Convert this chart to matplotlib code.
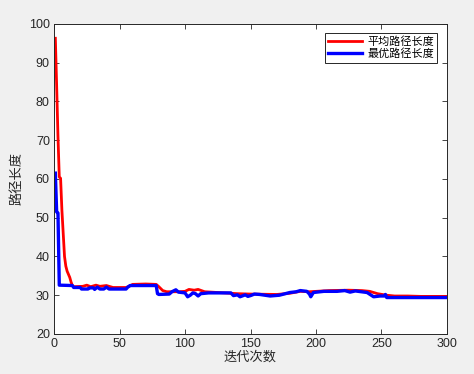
import matplotlib
matplotlib.use("Agg")
import matplotlib.pyplot as plt

plt.rcParams['font.family'] = ['Liberation Sans', 'Noto Sans CJK SC', 'DejaVu Sans']

# 平均路径长度 (iteration, value) breakpoints
avg_iter = [1, 2, 3, 4, 5, 6, 7, 8, 9, 10, 11, 12, 13, 14, 15, 22, 25, 28, 32, 35,
            40, 45, 55, 58, 60, 70, 78, 80, 83, 86, 95, 100, 103, 107, 110, 115,
            125, 140, 150, 170, 180, 188, 195, 200, 210, 225, 235, 241, 247, 254,
            260, 270, 280, 300]
avg_len = [96.3, 84, 71, 60.5, 60.2, 52, 46, 40, 37.5, 36.2, 35.4, 34.6, 33.4, 32.5,
           32.2, 32.3, 32.6, 32.2, 32.6, 32.3, 32.5, 32.0, 32.0, 32.4, 32.8, 32.9,
           32.8, 32.2, 31.2, 30.9, 30.9, 31.0, 31.5, 31.3, 31.5, 30.9, 30.7, 30.4,
           30.3, 30.2, 30.5, 31.0, 30.9, 31.0, 31.2, 31.3, 31.2, 31.0, 30.4, 30.0,
           29.8, 29.8, 29.7, 29.7]

# 最优路径长度
best_iter = [1, 2, 3, 4, 14, 15, 20, 21, 26, 27, 30, 31, 33, 35, 38, 40, 42, 55, 56,
             58, 78, 79, 80, 88, 90, 93, 95, 100, 102, 104, 106, 108, 110, 112, 118,
             135, 137, 140, 142, 146, 148, 150, 153, 157, 165, 172, 180, 185, 188,
             193, 195, 196, 198, 206, 216, 222, 226, 230, 239, 244, 249, 252, 253,
             254, 300]
best_len = [61.5, 51.5, 51.2, 32.6, 32.5, 32.0, 32.0, 31.6, 31.6, 31.9, 31.9, 31.5,
            32.1, 31.6, 31.6, 32.1, 31.6, 31.6, 32.0, 32.5, 32.5, 30.4, 30.2, 30.3,
            30.9, 31.4, 30.8, 30.6, 29.6, 30.0, 30.6, 30.4, 29.8, 30.4, 30.6, 30.6,
            29.9, 30.1, 29.6, 30.1, 29.7, 29.9, 30.3, 30.2, 29.8, 30.0, 30.7, 30.9,
            31.2, 31.0, 30.3, 29.6, 30.7, 31.0, 31.0, 31.2, 30.8, 31.1, 30.7, 29.6,
            29.8, 29.8, 30.2, 29.4, 29.4]

fig = plt.figure(figsize=(4.74, 3.74), dpi=100, facecolor='#f0f0f0')
ax = fig.add_axes([0.114, 0.107, 0.829, 0.829])

ax.plot(avg_iter, avg_len, color='#ff0000', lw=2.0, label='平均路径长度')
ax.plot(best_iter, best_len, color='#0000ff', lw=2.4, label='最优路径长度')

ax.set_xlim(0, 300)
ax.set_ylim(20, 100)
ax.set_xticks(range(0, 301, 50))
ax.set_yticks(range(20, 101, 10))
ax.tick_params(direction='in', length=3.5, width=0.6, top=True, right=True,
               labelsize=9, colors='#262626', pad=3)
for s in ax.spines.values():
    s.set_color('#262626')
    s.set_linewidth(0.7)

ax.set_xlabel('迭代次数', fontsize=9.5, color='#262626', labelpad=1)
ax.set_ylabel('路径长度', fontsize=9.5, color='#262626', labelpad=4)

leg = ax.legend(loc='upper right', bbox_to_anchor=(0.975, 0.972), fontsize=8,
                handlelength=3.0, fancybox=False, framealpha=1, borderpad=0.3,
                labelspacing=0.2, handletextpad=0.5, borderaxespad=0)
leg.get_frame().set_edgecolor('#262626')
leg.get_frame().set_linewidth(0.7)

fig.savefig('out.png', dpi=100, facecolor=fig.get_facecolor())
